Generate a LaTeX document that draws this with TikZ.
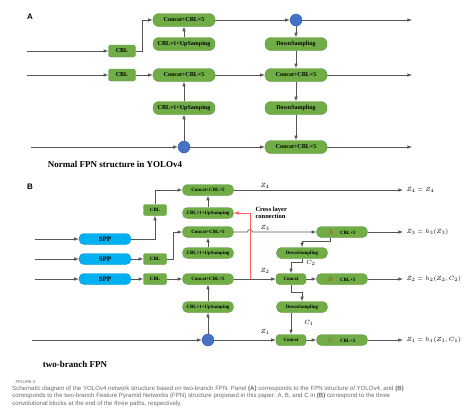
\documentclass[tikz,border=0pt]{standalone}
\usepackage{fontspec}
\setmainfont{Liberation Serif}
\setsansfont{Liberation Sans}
\usepackage{tikz}
\usetikzlibrary{arrows,%
		calc,%
		positioning,%
		shapes}

\definecolor{boxgreen}{RGB}{112,173,71}
\definecolor{dotblue}{RGB}{68,114,196}
\definecolor{sppblue}{RGB}{0,176,240}
\definecolor{linegray}{RGB}{85,85,85}
\definecolor{crossred}{RGB}{255,95,95}
\definecolor{letred}{RGB}{232,70,30}
\definecolor{capgray}{RGB}{105,105,105}

\begin{document}
\begin{tikzpicture}[x=1pt,y=-1pt,>=latex,
  line/.style={draw=linegray,line width=0.6pt},
  arr/.style={line,->},
  gbox/.style={fill=boxgreen,draw=boxgreen!85!black,line width=0.4pt,rounded corners=5pt,inner sep=0pt,font=\fontsize{6}{7}\selectfont\bfseries},
  longa/.style={gbox,rounded corners=6pt,minimum width=62pt,minimum height=13pt},
  cbla/.style={gbox,rounded corners=2.5pt,minimum width=27pt,minimum height=12pt},
  longb/.style={gbox,minimum width=51pt,minimum height=11pt,font=\fontsize{4.9}{5.5}\selectfont\bfseries},
  cblb/.style={gbox,rounded corners=2pt,minimum width=23pt,minimum height=11pt,font=\fontsize{4.9}{5.5}\selectfont\bfseries},
  catb/.style={gbox,rounded corners=3.5pt,minimum width=30pt,minimum height=11pt,font=\fontsize{4.9}{5.5}\selectfont\bfseries},
  spp/.style={fill=sppblue,draw=sppblue!85!black,line width=0.4pt,rounded corners=5pt,inner sep=0pt,minimum width=52pt,minimum height=11pt,font=\fontsize{7}{8}\selectfont\bfseries},
  dot/.style={circle,fill=dotblue,draw=dotblue!80!black,line width=0.4pt,minimum size=12pt,inner sep=0pt},
  zlab/.style={font=\fontsize{6}{7}\selectfont},
  panel/.style={font=\sffamily\bfseries\fontsize{8}{9}\selectfont},
  title/.style={font=\bfseries\fontsize{9}{10}\selectfont}
]
  \useasboundingbox (0,0) rectangle (474,408);

  % panel A
  \node[panel] (labA) at (30,17) {A};
  \node[longa] (ca1) at (184,20) {Concat+CBL×5};
  \node[longa] (ua1) at (184,44) {CBL×1+UpSamping};
  \node[cbla] (cbla1) at (122,51) {CBL};
  \node[cbla] (cbla2) at (122,75) {CBL};
  \node[longa] (ca2) at (184,75) {Concat+CBL×5};
  \node[longa] (ua2) at (184,108) {CBL×1+UpSamping};
  \node[dot] (da1) at (184,147) {};
  \node[dot] (da2) at (296,20) {};
  \node[longa] (dsa1) at (296,44) {DownSampling};
  \node[longa] (ca3) at (296,75) {Concat+CBL×5};
  \node[longa] (dsa2) at (296,108) {DownSampling};
  \node[longa] (ca4) at (296,147) {Concat+CBL×5};

  \coordinate (ina1) at (27,51);
  \coordinate (ina2) at (27,75);
  \coordinate (ina3) at (31,147);
  \coordinate (outa1) at (412,20);
  \coordinate (outa2) at (412,75);
  \coordinate (outa3) at (412,147);

  \draw[arr] (ina1) -- (cbla1);
  \draw[arr] (cbla1.east) -- ++(6.5,0) |- (ca1.west);
  \draw[arr] (ua1) -- (ca1);
  \draw[arr] (ina2) -- (cbla2);
  \draw[arr] (cbla2) -- (ca2);
  \draw[arr] (ua2) -- (ca2);
  \draw[arr] (da1) -- (ua2);
  \draw[arr] (ina3) -- (da1);
  \draw[arr] (da1) -- (ca4);
  \draw[arr] (ca1) -- (da2);
  \draw[arr] (da2) -- (dsa1);
  \draw[arr] (dsa1) -- (ca3);
  \draw[arr] (ca2) -- (ca3);
  \draw[arr] (ca3) -- (dsa2);
  \draw[arr] (dsa2) -- (ca4);
  \draw[arr] (da2) -- (outa1);
  \draw[arr] (ca3) -- (outa2);
  \draw[arr] (ca4) -- (outa3);

  \node[title] (titA) at (115,164) {Normal FPN structure in YOLOv4};

  % panel B
  \node[panel] (labB) at (30,187) {B};
  \node[longb] (cb1) at (208,190) {Concat+CBL×5};
  \node[longb] (ub1) at (208,213) {CBL×1+UpSamping};
  \node[longb] (cb2) at (208,232) {Concat+CBL×5};
  \node[longb] (ub2) at (208,253) {CBL×1+UpSamping};
  \node[longb] (cb3) at (208,279) {Concat+CBL×5};
  \node[longb] (ub3) at (208,307) {CBL×1+UpSamping};
  \node[dot] (db1) at (208,340) {};
  \node[spp] (spp1) at (105,239) {SPP};
  \node[spp] (spp2) at (105,259) {SPP};
  \node[spp] (spp3) at (105,279) {SPP};
  \node[cblb] (cblb1) at (155,210) {CBL};
  \node[cblb] (cblb2) at (155,259) {CBL};
  \node[cblb] (cblb3) at (155,279) {CBL};

  \node[longb] (blA) at (342,232) {{\color{letred}\fontsize{6.5}{7}\selectfont A}\hspace{7pt}CBL×5};
  \node[longb] (dsb1) at (302,253) {DownSampling};
  \node[catb] (cat1) at (291,279) {Concat};
  \node[longb] (blB) at (342,279) {{\color{letred}\fontsize{6.5}{7}\selectfont B}\hspace{7pt}CBL×5};
  \node[longb] (dsb2) at (302,307) {DownSampling};
  \node[catb] (cat2) at (291,340) {Concat};
  \node[longb] (blC) at (342,340) {{\color{letred}\fontsize{6.5}{7}\selectfont C}\hspace{7pt}CBL×5};

  \coordinate (inb1) at (35,239);
  \coordinate (inb2) at (35,259);
  \coordinate (inb3) at (35,279);
  \coordinate (inb4) at (32,340);
  \coordinate (outb1) at (403,190);
  \coordinate (outb2) at (403,232);
  \coordinate (outb3) at (403,279);
  \coordinate (outb4) at (403,340);
  \coordinate (hop) at (250,232);
  \coordinate (xlay) at (250,279);

  \draw[arr] (inb1) -- (spp1);
  \draw[arr] (inb2) -- (spp2);
  \draw[arr] (inb3) -- (spp3);
  \draw[arr] (inb4) -- (db1);
  \draw[arr] (spp1) -| (cblb1);
  \draw[arr] (cblb1) |- (cb1);
  \draw[arr] (spp2) -- (cblb2);
  \draw[arr] (cblb2.east) -- ++(6.5,0) |- (cb2.west);
  \draw[arr] (spp3) -- (cblb3);
  \draw[arr] (cblb3) -- (cb3);
  \draw[arr] (ub1) -- (cb1);
  \draw[arr] (ub2) -- (cb2);
  \draw[arr] (ub3) -- (cb3);
  \draw[arr] (db1) -- (ub3);

  \draw[arr] (cb1) -- (outb1);
  \draw[arr] (cb2.east) -- ($(hop)+(-2.5,0)$) arc[start angle=180,end angle=360,radius=2.5] -- (blA.west);
  \draw[arr] (blA) -- (outb2);
  \draw[arr] ([xshift=-12pt]blA.south) -- ++(0,3.5) -| (dsb1.north);
  \draw[arr] (dsb1.south) -- ++(0,3.5) -| (cat1.north);
  \draw[arr] (cb3) -- (cat1);
  \draw[arr] (cat1) -- (blB);
  \draw[arr] (blB) -- (outb3);
  \draw[arr] (cat1.south) -- ++(0,7.5) -| (dsb2.north);
  \draw[arr] (dsb2.south -| cat2.north) -- (cat2.north);
  \draw[arr] (db1) -- (cat2);
  \draw[arr] (cat2) -- (blC);
  \draw[arr] (blC) -- (outb4);

  % cross layer connection
  \draw[draw=crossred,line width=0.7pt,->] (xlay) |- (ub1.east);
  \node[font=\bfseries\fontsize{6.5}{7.5}\selectfont,align=left,anchor=west] (xtxt) at (252,213) {Cross layer\\connection};

  \node[zlab] (z4) at (265,186) {$Z_4$};
  \node[zlab] (z3) at (265,228) {$Z_3$};
  \node[zlab] (z2) at (265,271) {$Z_2$};
  \node[zlab] (z1) at (265,332) {$Z_1$};
  \node[zlab] (c2) at (311,263) {$C_2$};
  \node[zlab] (c1) at (309,323) {$C_1$};
  \node[zlab,anchor=west] (r4) at (outb1) {$Z_4=Z_4$};
  \node[zlab,anchor=west] (r3) at (outb2) {$Z_3=h_3(Z_3)$};
  \node[zlab,anchor=west] (r2) at (outb3) {$Z_2=h_2(Z_2,C_2)$};
  \node[zlab,anchor=west] (r1) at (outb4) {$Z_1=h_1(Z_1,C_1)$};

  \node[title] (titB) at (75,364) {two-branch FPN};

  % caption
  \node[anchor=west,font=\sffamily\fontsize{4.3}{5}\selectfont,text=capgray] (fig) at (12,382) {FIGURE 3};
  \node[anchor=north west,align=left,inner sep=0pt,font=\sffamily\fontsize{6.1}{7.3}\selectfont,text=capgray] (cap) at (12,386)
    {Schematic diagram of the YOLOv4 network structure based on two-branch FPN. Panel \textbf{(A)} corresponds to the FPN structure of YOLOv4, and \textbf{(B)}\\
     corresponds to the two-branch Feature Pyramid Networks (FPN) structure proposed in this paper. A, B, and C in \textbf{(B)} correspond to the three\\
     convolutional blocks at the end of the three paths, respectively.};
\end{tikzpicture}
\end{document}
